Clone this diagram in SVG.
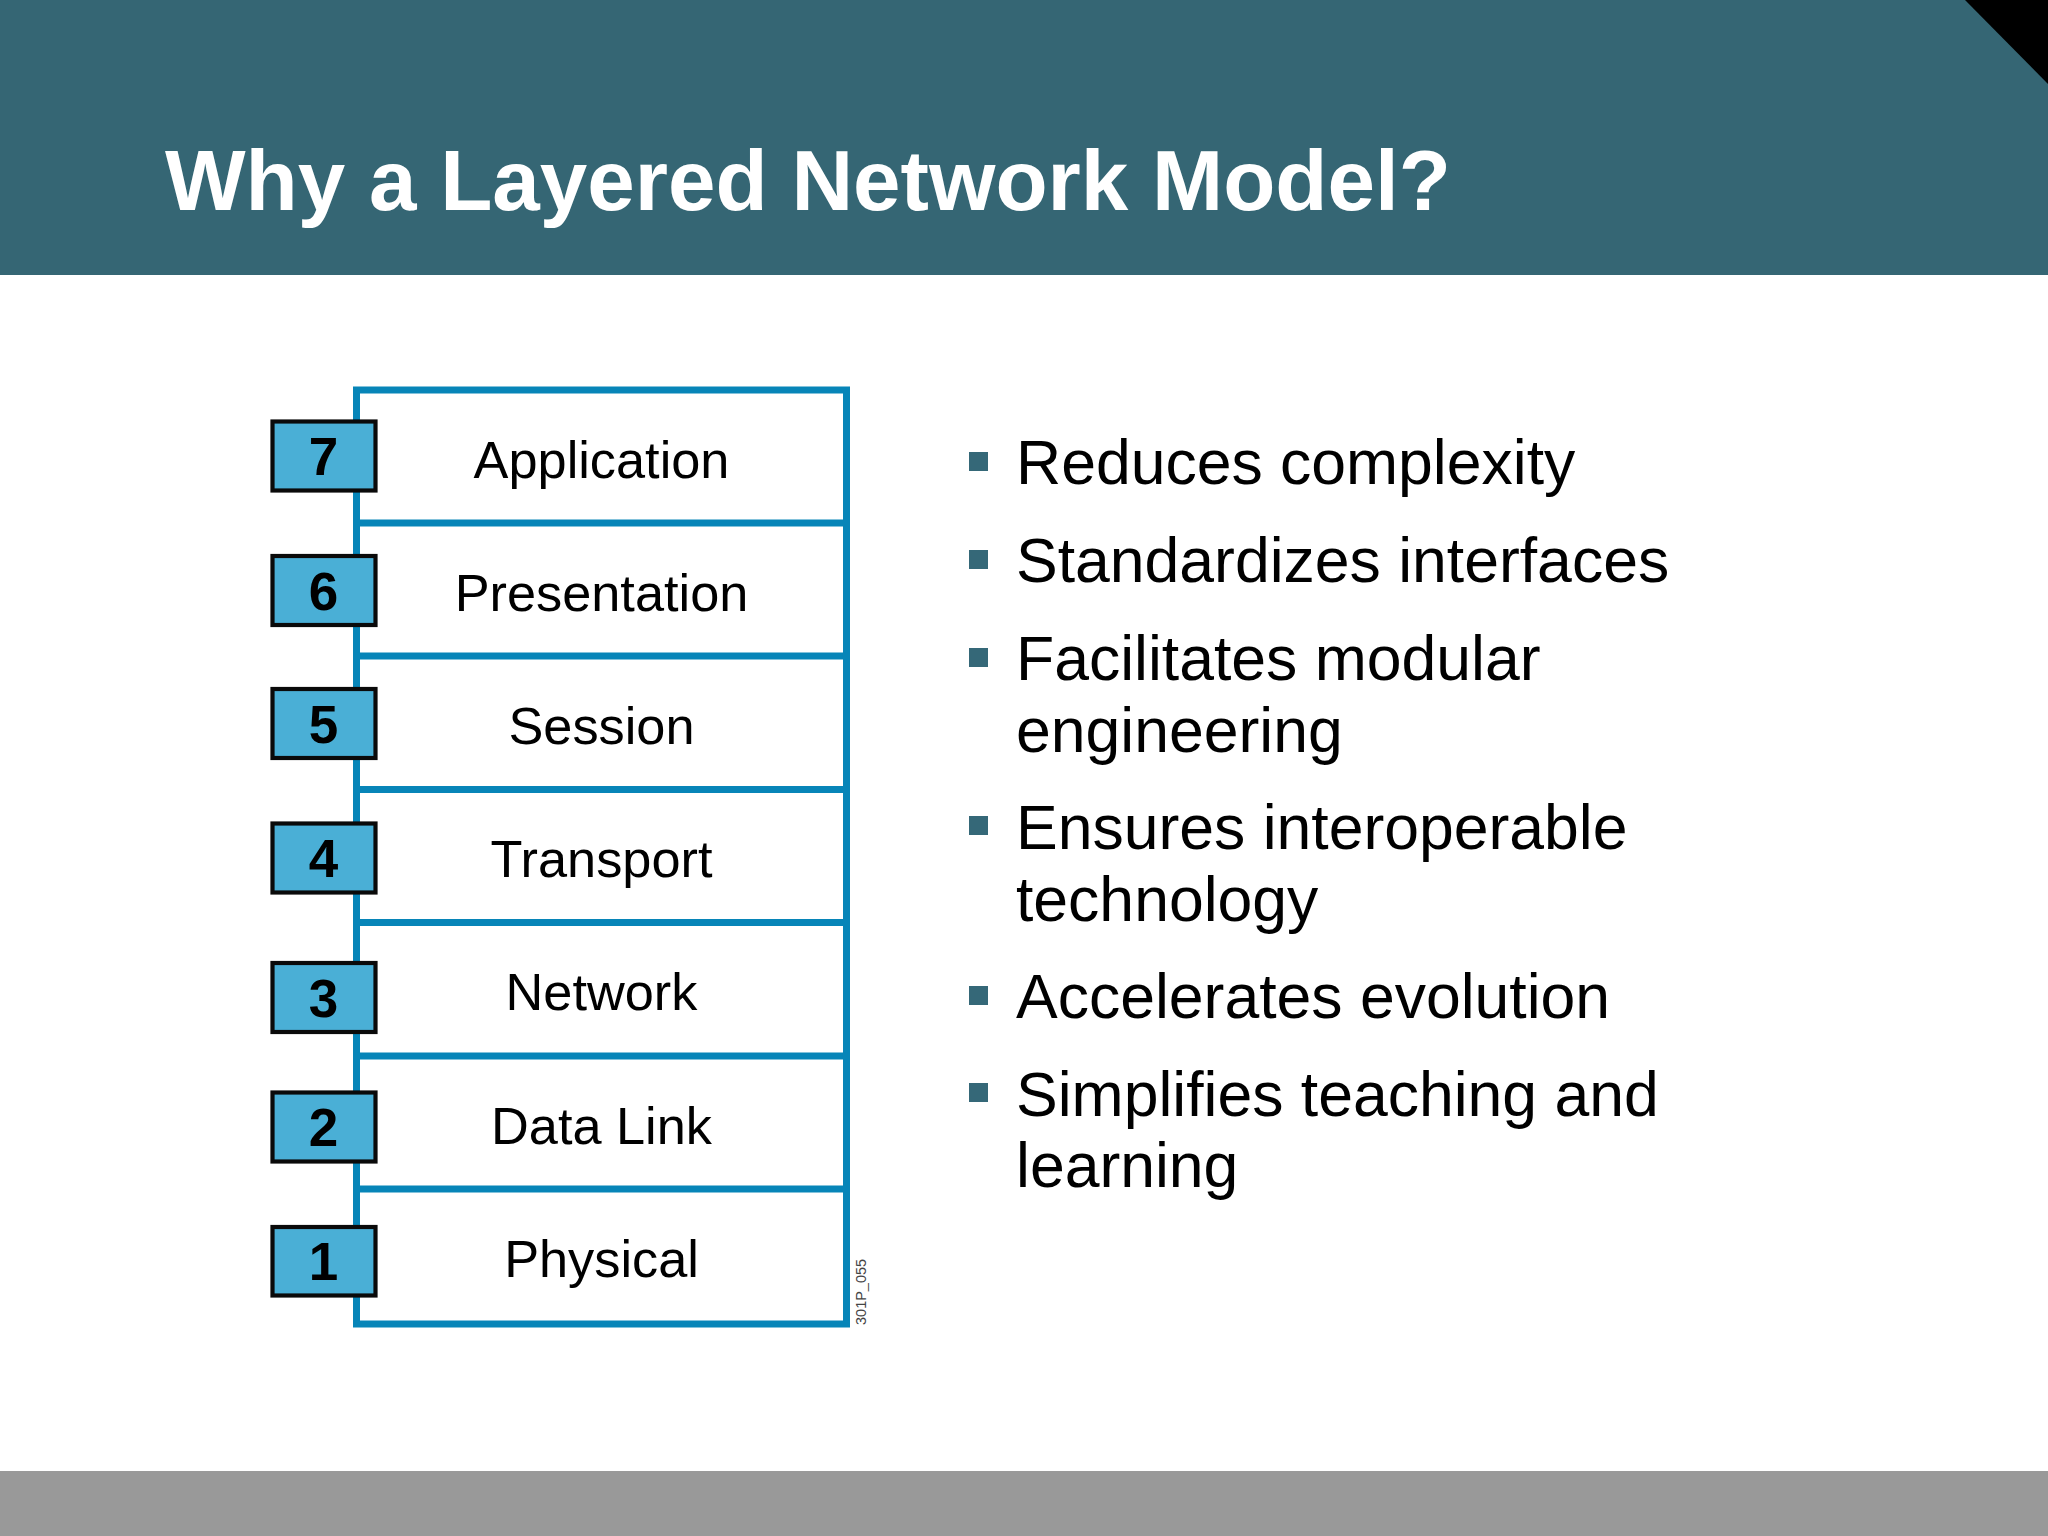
<svg xmlns="http://www.w3.org/2000/svg" width="2048" height="1536" viewBox="0 0 2048 1536">
<style>
text{font-family:"Liberation Sans",Arial,sans-serif;fill:#000}
.title{font-size:85.4px;font-weight:700;fill:#fff}
.lab{font-size:52.3px;text-anchor:middle}
.num{font-size:53px;font-weight:700;text-anchor:middle}
.bul{font-size:62.5px}
.box{fill:#4aafd6;stroke:#0a0a0a;stroke-width:4.2}
.fr{fill:none;stroke:#0785b8;stroke-width:7}
.sq{fill:#356878}
</style>
<rect width="2048" height="1536" fill="#fff"/>
<g id="header"><rect width="2048" height="275" fill="#356674"/><path d="M1965 0H2048V84Z" fill="#000"/><text class="title" x="165" y="210">Why a Layered Network Model?</text></g>
<rect id="footer" y="1471" width="2048" height="65" fill="#999"/>
<g id="connectors"><rect class="fr" x="356.500" y="390" width="490" height="934"/><path class="fr" d="M357 523H846M357 656H846M357 789.500H846M357 922.500H846M357 1056H846M357 1189H846"/></g>
<g id="layer7"><rect class="box" x="272.500" y="421.500" width="103" height="69"/><text class="num" x="323.500" y="475">7</text><text class="lab" x="601.500" y="477.500">Application</text></g>
<g id="layer6"><rect class="box" x="272.500" y="556" width="103" height="69"/><text class="num" x="323.500" y="610">6</text><text class="lab" x="601.500" y="610.500">Presentation</text></g>
<g id="layer5"><rect class="box" x="272.500" y="689" width="103" height="69"/><text class="num" x="323.500" y="743">5</text><text class="lab" x="601.500" y="744">Session</text></g>
<g id="layer4"><rect class="box" x="272.500" y="823.500" width="103" height="69"/><text class="num" x="323.500" y="877">4</text><text class="lab" x="601.500" y="876.500">Transport</text></g>
<g id="layer3"><rect class="box" x="272.500" y="963" width="103" height="69"/><text class="num" x="323.500" y="1017">3</text><text class="lab" x="601.500" y="1010">Network</text></g>
<g id="layer2"><rect class="box" x="272.500" y="1092.500" width="103" height="69"/><text class="num" x="323.500" y="1146">2</text><text class="lab" x="601.500" y="1143.500">Data Link</text></g>
<g id="layer1"><rect class="box" x="272.500" y="1227" width="103" height="68.500"/><text class="num" x="323.500" y="1280">1</text><text class="lab" x="601.500" y="1277">Physical</text></g>
<text id="code" transform="translate(866 1325) rotate(-90)" style="font-size:14.500px;fill:#444">301P_055</text>
<g id="bullets">
<rect class="sq" x="969" y="452" width="19" height="19"/><text class="bul" x="1016" y="484">Reduces complexity</text>
<rect class="sq" x="969" y="550" width="19" height="19"/><text class="bul" x="1016" y="582">Standardizes interfaces</text>
<rect class="sq" x="969" y="648" width="19" height="19"/><text class="bul" x="1016" y="680">Facilitates modular</text><text class="bul" x="1016" y="752">engineering</text>
<rect class="sq" x="969" y="816" width="19" height="19"/><text class="bul" x="1016" y="849">Ensures interoperable</text><text class="bul" x="1016" y="921">technology</text>
<rect class="sq" x="969" y="986" width="19" height="19"/><text class="bul" x="1016" y="1018">Accelerates evolution</text>
<rect class="sq" x="969" y="1083" width="19" height="19"/><text class="bul" x="1016" y="1116">Simplifies teaching and</text><text class="bul" x="1016" y="1187">learning</text>
</g>
</svg>
